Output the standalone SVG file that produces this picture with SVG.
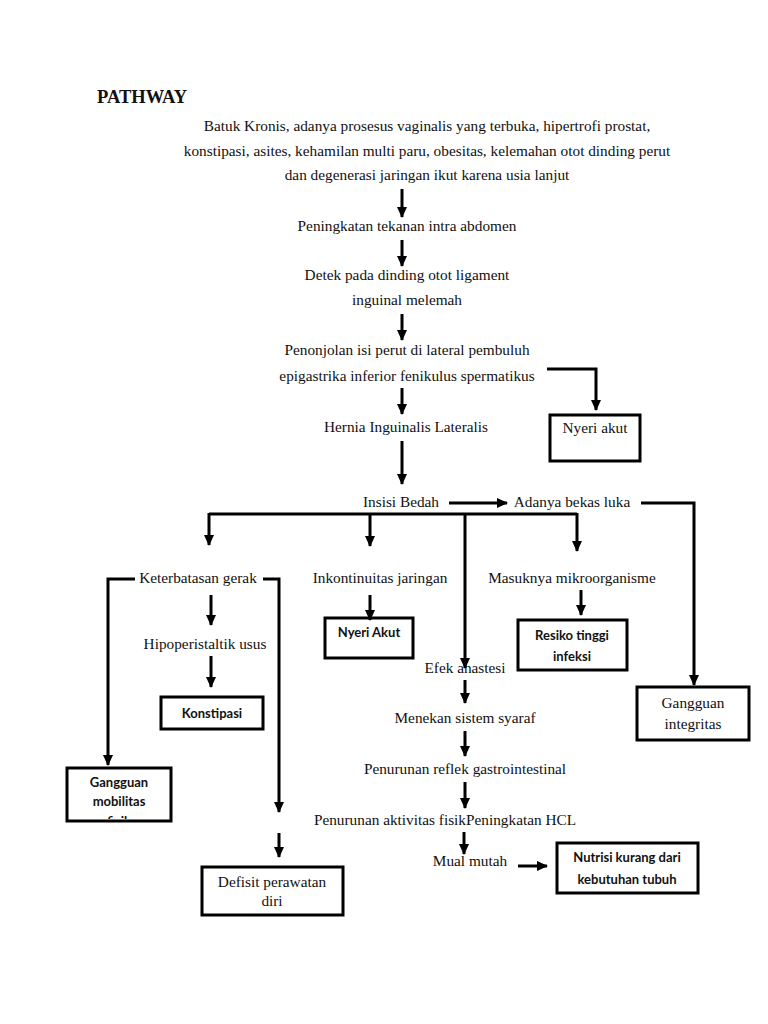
<svg xmlns="http://www.w3.org/2000/svg" width="768" height="1024" viewBox="0 0 768 1024">
<style>
text{font-family:"Liberation Serif","Times New Roman",serif;font-size:15.3px;fill:#111}
.c{text-anchor:middle}
.b{font-family:Lato,"Open Sans","Liberation Sans",sans-serif;font-weight:bold;font-size:13px}
.title{font-weight:bold;font-size:18.5px}
.box{fill:#fff;stroke:#000;stroke-width:3}
.ln{fill:none;stroke:#000;stroke-width:3}
.ar{fill:none;stroke:#000;stroke-width:3;marker-end:url(#ah)}
</style>
<defs>
<marker id="ah" markerUnits="userSpaceOnUse" markerWidth="12" markerHeight="10" refX="10" refY="5" orient="auto">
<path d="M0,0 L11,5 L0,10 z" fill="#000"/>
</marker>
<clipPath id="clipmob"><rect x="68" y="770" width="102" height="49"/></clipPath>
</defs>
<rect width="768" height="1024" fill="#fff"/>

<g id="title"><text class="title" x="97" y="103">PATHWAY</text></g>

<g id="n-cause">
<text class="c" x="427" y="131">Batuk Kronis, adanya prosesus vaginalis yang terbuka, hipertrofi prostat,</text>
<text class="c" x="427" y="156">konstipasi, asites, kehamilan multi paru, obesitas, kelemahan otot dinding perut</text>
<text class="c" x="427" y="180">dan degenerasi jaringan ikut karena usia lanjut</text>
</g>
<g id="n-peningkatan"><text class="c" x="407" y="231">Peningkatan tekanan intra abdomen</text></g>
<g id="n-detek">
<text class="c" x="407" y="280">Detek pada dinding otot ligament</text>
<text class="c" x="407" y="305">inguinal melemah</text>
</g>
<g id="n-penonjolan">
<text class="c" x="407" y="355">Penonjolan isi perut di lateral pembuluh</text>
<text class="c" x="407" y="381">epigastrika inferior fenikulus spermatikus</text>
</g>
<g id="n-nyeri1">
<rect class="box" x="550" y="415" width="90" height="46" stroke-width="1.5"/>
<text class="c" x="595" y="433">Nyeri akut</text>
</g>
<g id="n-hernia"><text class="c" x="406" y="432">Hernia Inguinalis Lateralis</text></g>
<g id="n-insisi"><text class="c" x="401" y="507">Insisi Bedah</text></g>
<g id="n-bekas"><text class="c" x="572" y="507">Adanya bekas luka</text></g>
<g id="n-keterbatasan"><text class="c" x="198" y="583">Keterbatasan gerak</text></g>
<g id="n-inkontinuitas"><text class="c" x="380" y="583">Inkontinuitas jaringan</text></g>
<g id="n-masuknya"><text class="c" x="572" y="583">Masuknya mikroorganisme</text></g>
<g id="n-hipo"><text class="c" x="205" y="649">Hipoperistaltik usus</text></g>
<g id="n-konstipasi">
<rect class="box" x="161" y="697" width="102" height="32"/>
<text class="c b" x="212" y="718">Konstipasi</text>
</g>
<g id="n-nyeri2">
<rect class="box" x="325" y="618" width="88" height="40"/>
<text class="c b" x="369" y="637">Nyeri Akut</text>
</g>
<g id="n-resiko">
<rect class="box" x="518" y="620" width="109" height="50"/>
<text class="c b" x="572" y="640">Resiko tinggi</text>
<text class="c b" x="572" y="661">infeksi</text>
</g>
<g id="n-integritas">
<rect class="box" x="637" y="687" width="112" height="53"/>
<text class="c" x="693" y="708">Gangguan</text>
<text class="c" x="693" y="729">integritas</text>
</g>
<g id="n-efek"><text class="c" x="465" y="673">Efek anastesi</text></g>
<g id="n-menekan"><text class="c" x="465" y="723">Menekan sistem syaraf</text></g>
<g id="n-reflek"><text class="c" x="465" y="774">Penurunan reflek gastrointestinal</text></g>
<g id="n-aktivitas"><text class="c" x="445" y="825">Penurunan aktivitas fisikPeningkatan HCL</text></g>
<g id="n-mual"><text class="c" x="470" y="866">Mual mutah</text></g>
<g id="n-nutrisi">
<rect class="box" x="557" y="843" width="141" height="50"/>
<text class="c b" x="627" y="862">Nutrisi kurang dari</text>
<text class="c b" x="627" y="884">kebutuhan tubuh</text>
</g>
<g id="n-mobilitas">
<rect class="box" x="67" y="768" width="104" height="53"/>
<text class="c b" x="119" y="787">Gangguan</text>
<text class="c b" x="119" y="806">mobilitas</text>
<text class="c b" x="119" y="826" clip-path="url(#clipmob)">fisik</text>
</g>
<g id="n-defisit">
<rect class="box" x="202" y="867" width="141" height="48"/>
<text class="c" x="272" y="887">Defisit perawatan</text>
<text class="c" x="272" y="906">diri</text>
</g>

<g id="connectors">
<line class="ar" x1="402" y1="189" x2="402" y2="217"/>
<line class="ar" x1="402" y1="240" x2="402" y2="266"/>
<line class="ar" x1="402" y1="314" x2="402" y2="340"/>
<line class="ar" x1="402" y1="388" x2="402" y2="414"/>
<polyline class="ar" points="547,369 596,369 596,410"/>
<line class="ar" x1="402" y1="441" x2="402" y2="484"/>
<line class="ar" x1="449" y1="503" x2="507" y2="503"/>
<polyline class="ar" points="641,503 694,503 694,685"/>
<line class="ln" x1="209" y1="514" x2="577" y2="514"/>
<line class="ar" x1="209" y1="513" x2="209" y2="545"/>
<line class="ar" x1="370" y1="514" x2="370" y2="546"/>
<line class="ar" x1="577" y1="513" x2="577" y2="551"/>
<line class="ar" x1="465" y1="514" x2="465" y2="668"/>
<polyline class="ar" points="135,579 108,579 108,765"/>
<polyline class="ar" points="263,579 279,579 279,812"/>
<line class="ar" x1="211" y1="595" x2="211" y2="625"/>
<line class="ar" x1="211" y1="656" x2="211" y2="687"/>
<line class="ar" x1="370" y1="595" x2="370" y2="620"/>
<line class="ar" x1="581" y1="590" x2="581" y2="615"/>
<line class="ar" x1="465" y1="680" x2="465" y2="703"/>
<line class="ar" x1="465" y1="731" x2="465" y2="756"/>
<line class="ar" x1="465" y1="782" x2="465" y2="808"/>
<line class="ar" x1="464" y1="832" x2="464" y2="854"/>
<line class="ar" x1="279" y1="833" x2="279" y2="857"/>
<line class="ar" x1="518" y1="866" x2="547" y2="866"/>
</g>
</svg>
